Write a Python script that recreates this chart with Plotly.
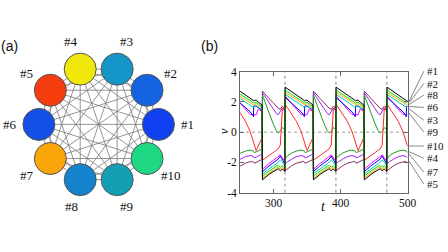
import math
import plotly.graph_objects as go

W, H = 448, 252

# ---------------- panel (b) data ----------------
t = [250, 251, 258, 265, 269, 269.8, 270.4, 271, 274, 277, 280, 282.8, 283.4, 287, 293, 299, 304, 307, 310, 313, 315, 316.8,
     317.2, 321, 327, 334, 341, 345, 345.8, 346.4, 347, 350, 353, 356, 358.8, 359.4, 363, 369, 375, 380, 383, 386, 389, 391, 392.8,
     393.2, 397, 403, 410, 417, 421, 421.8, 422.4, 423, 426, 429, 432, 434.8, 435.4, 439, 445, 451, 456, 459, 462, 465, 467, 468.8,
     469.2, 473, 479, 486, 493, 497, 497.8, 498.4, 499, 500]

v1 = [2.71, 2.68, 2.47, 2.2, 2.1, 2.08, 2.08, 2.1, 2.12, 2.0, 1.9, 1.8, -3.15, -3.0, -2.8, -2.62, -2.48, -2.42, -2.55, -2.45, -2.5, -2.6,
      2.98, 2.86, 2.68, 2.47, 2.2, 2.1, 2.08, 2.08, 2.1, 2.12, 2.0, 1.9, 1.8, -3.15, -3.0, -2.8, -2.62, -2.48, -2.42, -2.55, -2.45, -2.5, -2.6,
      2.98, 2.86, 2.68, 2.47, 2.2, 2.1, 2.08, 2.08, 2.1, 2.12, 2.0, 1.9, 1.8, -3.15, -3.0, -2.8, -2.62, -2.48, -2.42, -2.55, -2.45, -2.5, -2.6,
      2.98, 2.86, 2.68, 2.47, 2.2, 2.1, 2.08, 2.08, 2.1, 2.11]
v2 = [2.52, 2.49, 2.29, 2.05, 1.95, 1.93, 1.93, 1.95, 1.98, 1.88, 1.78, 1.68, -2.88, -2.76, -2.56, -2.38, -2.25, -2.2, -2.32, -2.22, -2.28, -2.38,
      2.78, 2.67, 2.49, 2.29, 2.05, 1.95, 1.93, 1.93, 1.95, 1.98, 1.88, 1.78, 1.68, -2.88, -2.76, -2.56, -2.38, -2.25, -2.2, -2.32, -2.22, -2.28, -2.38,
      2.78, 2.67, 2.49, 2.29, 2.05, 1.95, 1.93, 1.93, 1.95, 1.98, 1.88, 1.78, 1.68, -2.88, -2.76, -2.56, -2.38, -2.25, -2.2, -2.32, -2.22, -2.28, -2.38,
      2.78, 2.67, 2.49, 2.29, 2.05, 1.95, 1.93, 1.93, 1.95, 1.96]
v8 = [2.37, 2.34, 2.14, 1.92, 1.83, 1.81, 1.82, 1.84, 1.88, 1.78, 1.68, 1.58, -3.02, -2.9, -2.7, -2.5, -2.37, -2.32, -2.44, -2.34, -2.4, -2.5,
      2.63, 2.52, 2.34, 2.14, 1.92, 1.83, 1.81, 1.82, 1.84, 1.88, 1.78, 1.68, 1.58, -3.02, -2.9, -2.7, -2.5, -2.37, -2.32, -2.44, -2.34, -2.4, -2.5,
      2.63, 2.52, 2.34, 2.14, 1.92, 1.83, 1.81, 1.82, 1.84, 1.88, 1.78, 1.68, 1.58, -3.02, -2.9, -2.7, -2.5, -2.37, -2.32, -2.44, -2.34, -2.4, -2.5,
      2.63, 2.52, 2.34, 2.14, 1.92, 1.83, 1.81, 1.82, 1.84, 1.86]
v6 = [2.22, 2.19, 1.98, 1.76, 1.67, 1.65, 1.66, 1.68, 1.74, 1.66, 1.57, 1.48, -2.75, -2.62, -2.43, -2.24, -2.1, -1.98, -1.85, -1.98, -2.12, -2.22,
      2.5, 2.38, 2.19, 1.98, 1.76, 1.67, 1.65, 1.66, 1.68, 1.74, 1.66, 1.57, 1.48, -2.75, -2.62, -2.43, -2.24, -2.1, -1.98, -1.85, -1.98, -2.12, -2.22,
      2.5, 2.38, 2.19, 1.98, 1.76, 1.67, 1.65, 1.66, 1.68, 1.74, 1.66, 1.57, 1.48, -2.75, -2.62, -2.43, -2.24, -2.1, -1.98, -1.85, -1.98, -2.12, -2.22,
      2.5, 2.38, 2.19, 1.98, 1.76, 1.67, 1.65, 1.66, 1.68, 1.7]
v3 = [1.94, 1.9, 1.62, 1.35, 1.12, 1.02, 1.72, 1.74, 1.72, 1.63, 1.54, 1.46, -2.6, -2.45, -2.24, -2.04, -1.88, -1.78, -1.58, -1.85, -2.0, -2.1,
      2.3, 2.15, 1.9, 1.62, 1.35, 1.12, 1.02, 1.72, 1.74, 1.72, 1.63, 1.54, 1.46, -2.6, -2.45, -2.24, -2.04, -1.88, -1.78, -1.58, -1.85, -2.0, -2.1,
      2.3, 2.15, 1.9, 1.62, 1.35, 1.12, 1.02, 1.72, 1.74, 1.72, 1.63, 1.54, 1.46, -2.6, -2.45, -2.24, -2.04, -1.88, -1.78, -1.58, -1.85, -2.0, -2.1,
      2.3, 2.15, 1.9, 1.62, 1.35, 1.12, 1.02, 1.72, 1.74, 1.73]
v9 = [1.93, 1.88, 1.5, 1.17, 1.15, 1.15, 1.15, 1.15, 1.15, 1.52, 1.47, 1.38, -2.45, -2.3, -2.08, -1.88, -1.72, -1.62, -1.5, -1.68, -1.82, -1.92,
      2.4, 2.2, 1.88, 1.5, 1.17, 1.15, 1.15, 1.15, 1.15, 1.15, 1.52, 1.47, 1.38, -2.45, -2.3, -2.08, -1.88, -1.72, -1.62, -1.5, -1.68, -1.82, -1.92,
      2.4, 2.2, 1.88, 1.5, 1.17, 1.15, 1.15, 1.15, 1.15, 1.15, 1.52, 1.47, 1.38, -2.45, -2.3, -2.08, -1.88, -1.72, -1.62, -1.5, -1.68, -1.82, -1.92,
      2.4, 2.2, 1.88, 1.5, 1.17, 1.15, 1.15, 1.15, 1.15, 1.15]
v10 = [1.3, 1.22, 0.72, 0.05, -0.5, -0.62, -0.72, -0.82, -1.22, -0.92, -0.58, -0.35, -1.85, -1.75, -1.55, -1.36, -1.2, -1.1, -0.85, 1.45, 1.65, 1.8,
       1.85, 1.6, 1.22, 0.72, 0.05, -0.5, -0.62, -0.72, -0.82, -1.22, -0.92, -0.58, -0.35, -1.85, -1.75, -1.55, -1.36, -1.2, -1.1, -0.85, 1.45, 1.65, 1.8,
       1.85, 1.6, 1.22, 0.72, 0.05, -0.5, -0.62, -0.72, -0.82, -1.22, -0.92, -0.58, -0.35, -1.85, -1.75, -1.55, -1.36, -1.2, -1.1, -0.85, 1.45, 1.65, 1.8,
       1.85, 1.6, 1.22, 0.72, 0.05, -0.5, -0.62, -0.72, -0.82, -0.95]
v4 = [-1.4, -1.38, -1.25, -1.18, -1.2, -1.24, -1.3, -1.35, -1.3, -1.24, -1.18, -1.12, 2.45, 2.0, 1.3, 0.6, 0.1, -0.05, 0.05, 0.3, 0.25, 0.15,
      -1.75, -1.55, -1.38, -1.25, -1.18, -1.2, -1.24, -1.3, -1.35, -1.3, -1.24, -1.18, -1.12, 2.45, 2.0, 1.3, 0.6, 0.1, -0.05, 0.05, 0.3, 0.25, 0.15,
      -1.75, -1.55, -1.38, -1.25, -1.18, -1.2, -1.24, -1.3, -1.35, -1.3, -1.24, -1.18, -1.12, 2.45, 2.0, 1.3, 0.6, 0.1, -0.05, 0.05, 0.3, 0.25, 0.15,
      -1.75, -1.55, -1.38, -1.25, -1.18, -1.2, -1.24, -1.3, -1.35, -1.34]
v7 = [-1.8, -1.78, -1.62, -1.55, -1.56, -1.6, -1.65, -1.7, -1.65, -1.57, -1.5, -1.45, 2.6, 2.35, 1.95, 1.55, 1.25, 1.15, 1.4, 1.6, 1.5, 1.35,
      -2.1, -1.95, -1.78, -1.62, -1.55, -1.56, -1.6, -1.65, -1.7, -1.65, -1.57, -1.5, -1.45, 2.6, 2.35, 1.95, 1.55, 1.25, 1.15, 1.4, 1.6, 1.5, 1.35,
      -2.1, -1.95, -1.78, -1.62, -1.55, -1.56, -1.6, -1.65, -1.7, -1.65, -1.57, -1.5, -1.45, 2.6, 2.35, 1.95, 1.55, 1.25, 1.15, 1.4, 1.6, 1.5, 1.35,
      -2.1, -1.95, -1.78, -1.62, -1.55, -1.56, -1.6, -1.65, -1.7, -1.69]
v5 = [-2.25, -2.22, -2.05, -1.95, -1.93, -1.96, -2.0, -2.05, -2.0, -1.93, -1.86, -1.8, 2.72, 2.52, 2.24, 1.96, 1.72, 1.58, 1.52, 1.72, 1.62, 1.45,
      -2.55, -2.4, -2.22, -2.05, -1.95, -1.93, -1.96, -2.0, -2.05, -2.0, -1.93, -1.86, -1.8, 2.72, 2.52, 2.24, 1.96, 1.72, 1.58, 1.52, 1.72, 1.62, 1.45,
      -2.55, -2.4, -2.22, -2.05, -1.95, -1.93, -1.96, -2.0, -2.05, -2.0, -1.93, -1.86, -1.8, 2.72, 2.52, 2.24, 1.96, 1.72, 1.58, 1.52, 1.72, 1.62, 1.45,
      -2.55, -2.4, -2.22, -2.05, -1.95, -1.93, -1.96, -2.0, -2.05, -2.04]

series = [
    ("#5", "#803060", v5),
    ("#7", "#a020f0", v7),
    ("#4", "#229922", v4),
    ("#10", "#ff2a2a", v10),
    ("#9", "#ff00ff", v9),
    ("#3", "#0000ff", v3),
    ("#6", "#00c8c8", v6),
    ("#8", "#ffa500", v8),
    ("#2", "#00dd00", v2),
    ("#1", "#000000", v1),
]
for name, _, vals in series:
    if len(vals) != len(t):
        raise ValueError(f"{name}: {len(vals)} values vs {len(t)} times")

marker_times = [317, 393, 469]
x_ticks = [300, 400, 500]
y_ticks = [-4, -2, 0, 2, 4]
y_ticktext = ["-4", "-2", "0", "2", "4"]

# right-hand labels: (text, label y px, leader end y px)
right_labels = [("#1", 68.5, 100), ("#2", 81.5, 101.5), ("#8", 93.5, 103.5), ("#6", 106.5, 105.5),
                ("#3", 120, 108), ("#9", 132.5, 112.5), ("#10", 147, 147), ("#4", 160, 153),
                ("#7", 174.5, 155.5), ("#5", 187, 163)]

# ---------------- panel (a) data ----------------
node_labels = ["#1", "#2", "#3", "#4", "#5", "#6", "#7", "#8", "#9", "#10"]
node_colors = ["#1040f0", "#1464e1", "#1496c8", "#f0e80a", "#f53c0f",
               "#1450e6", "#faa50a", "#1482cd", "#14a0b4", "#1ed782"]
node_angles = [0, 36, 72, 108, 144, 180, 216, 252, 288, 324]

SERIF = "Liberation Serif"
SANS = "Liberation Sans"

fig = go.Figure()

# network geometry (panel a drawn in pixel-like axis units)
cx, cy, R, RL = 100.7, 124.3, 61, 91
nx = [cx + R * math.cos(math.radians(a)) for a in node_angles]
ny = [cy - R * math.sin(math.radians(a)) for a in node_angles]
ex, ey = [], []
for i in range(len(nx)):
    for j in range(i + 1, len(nx)):
        ex += [nx[i], nx[j], None]
        ey += [ny[i], ny[j], None]
fig.add_trace(go.Scatter(x=ex, y=ey, mode="lines", line=dict(color="#7a7a7a", width=0.8),
                         xaxis="x2", yaxis="y2", hoverinfo="skip", showlegend=False))
fig.add_trace(go.Scatter(x=nx, y=ny, mode="markers",
                         marker=dict(size=32, color=node_colors, line=dict(color="#555555", width=1)),
                         xaxis="x2", yaxis="y2", hoverinfo="skip", showlegend=False))

annotations = []
for lab, a in zip(node_labels, node_angles):
    annotations.append(dict(x=cx + RL * math.cos(math.radians(a)), y=cy - RL * math.sin(math.radians(a)),
                            xref="x2", yref="y2", text=lab, showarrow=False,
                            xanchor="center", yanchor="middle",
                            font=dict(family=SERIF, size=13, color="#111")))

# time series
for name, color, vals in series:
    fig.add_trace(go.Scatter(x=t, y=vals, mode="lines", line=dict(color=color, width=1.0),
                             xaxis="x", yaxis="y", hoverinfo="skip", showlegend=False, name=name))

shapes = []
for xm in marker_times:
    shapes.append(dict(type="line", xref="x", yref="y domain", x0=xm, x1=xm, y0=0, y1=1,
                       line=dict(color="#888888", width=1, dash="dot"), layer="below"))
shapes.append(dict(type="line", xref="x domain", yref="y", x0=0, x1=1, y0=0, y1=0,
                   line=dict(color="#999999", width=1, dash="dot"), layer="below"))

def px(x):
    return x / W

def py(y):
    return 1 - y / H

for lab, ly, ey_ in right_labels:
    shapes.append(dict(type="line", xref="paper", yref="paper", x0=px(417.5), x1=px(432.5), y0=py(ey_), y1=py(ly),
                       line=dict(color="#666666", width=0.8)))
    annotations.append(dict(x=px(433.5), y=py(ly), xref="paper", yref="paper", text=lab, showarrow=False,
                            xanchor="left", yanchor="middle", font=dict(family=SERIF, size=11, color="#111")))

annotations += [
    dict(x=px(10), y=py(42.5), xref="paper", yref="paper", text="(a)", showarrow=False,
         xanchor="center", yanchor="middle", font=dict(family=SANS, size=14, color="#111")),
    dict(x=px(214), y=py(42), xref="paper", yref="paper", text="(b)", showarrow=False,
         xanchor="center", yanchor="middle", font=dict(family=SANS, size=14, color="#111")),
    dict(x=px(228), y=py(131), xref="paper", yref="paper", text="<i>v</i>", showarrow=False, textangle=-90,
         xanchor="center", yanchor="middle", font=dict(family=SERIF, size=13, color="#111")),
    dict(x=px(330), y=py(211), xref="paper", yref="paper", text="<i>t</i>", showarrow=False,
         xanchor="center", yanchor="middle", font=dict(family=SERIF, size=14, color="#111")),
]

axis_common = dict(showgrid=False, zeroline=False, showline=True, linecolor="#666666", linewidth=1,
                   mirror="ticks", ticks="inside", ticklen=4, tickcolor="#666666",
                   tickfont=dict(family=SERIF, size=11.5, color="#111"))

fig.update_layout(
    width=W, height=H, margin=dict(l=0, r=0, t=0, b=0),
    paper_bgcolor="white", plot_bgcolor="white",
    xaxis=dict(domain=[245 / W, 416 / W], range=[250, 500], tickvals=x_ticks, anchor="y", **axis_common),
    yaxis=dict(domain=[(H - 196) / H, (H - 69) / H], range=[-4, 4], tickvals=y_ticks, ticktext=y_ticktext,
               anchor="x", ticklabelstandoff=0, **axis_common),
    xaxis2=dict(domain=[0, 200 / W], range=[0, 200], visible=False, anchor="y2"),
    yaxis2=dict(domain=[0, 1], range=[H, 0], visible=False, anchor="x2"),
    shapes=shapes, annotations=annotations,
)

fig.write_html("out.html", config={"displayModeBar": False},
               post_script="document.body.style.margin='0px';")
